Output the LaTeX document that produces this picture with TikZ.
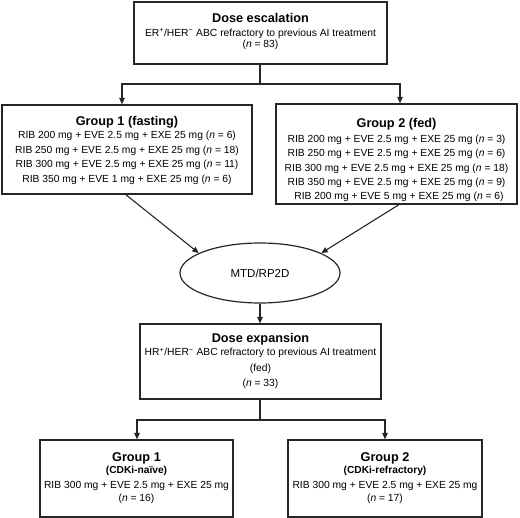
\documentclass[tikz,border=0pt]{standalone}
\usepackage{fontspec}
\setmainfont{Liberation Sans}
\usetikzlibrary{arrows.meta,shapes.geometric}
\begin{document}
\begin{tikzpicture}[x=1pt,y=-1pt,
  box/.style={draw=black!85, line width=1.2pt, inner sep=0pt, rectangle},
  ttl/.style={font=\fontsize{12.7}{14}\selectfont\bfseries, anchor=base, inner sep=0pt},
  sub/.style={font=\fontsize{10.2}{12}\selectfont\bfseries, anchor=base, inner sep=0pt},
  txt/.style={font=\fontsize{10.3}{12}\selectfont, anchor=base, inner sep=0pt},
  conn/.style={draw=black!85, line width=1.1pt},
  arr/.style={conn, -{Triangle[length=6.5pt,width=5.5pt]}}
]
\useasboundingbox (0,0) rectangle (520,518);

% boxes
\node[box, minimum width=253, minimum height=62] (top) at (260.5,33) {};
\node[box, minimum width=250, minimum height=89] (g1) at (127,149.5) {};
\node[box, minimum width=241, minimum height=100] (g2) at (396.5,154) {};
\node[draw=black!85, line width=1.2pt, ellipse, minimum width=160, minimum height=60, inner sep=0pt] (mtd) at (260,273) {};
\node[box, minimum width=241, minimum height=75] (exp) at (260.5,361.5) {};
\node[box, minimum width=193, minimum height=77] (b1) at (136.5,478.5) {};
\node[box, minimum width=194, minimum height=77] (b2) at (385,478.5) {};

% top box text
\node[ttl] (t1) at (260.5,22.6) {Dose escalation};
\node[txt] (t2) at (260.5,36.2) {ER\textsuperscript{+}/HER\textsuperscript{−} ABC refractory to previous AI treatment};
\node[txt] (t3) at (260.5,47.5) {(\textit{n} = 83)};

% group 1 text
\node[ttl] (g1t) at (127,125.6) {Group 1 (fasting)};
\node[txt] (g1a) at (127,138.7) {RIB 200 mg + EVE 2.5 mg + EXE 25 mg (\textit{n} = 6)};
\node[txt] (g1b) at (127,153.3) {RIB 250 mg + EVE 2.5 mg + EXE 25 mg (\textit{n} = 18)};
\node[txt] (g1c) at (127,167.9) {RIB 300 mg + EVE 2.5 mg + EXE 25 mg (\textit{n} = 11)};
\node[txt] (g1d) at (127,182.5) {RIB 350 mg + EVE 1 mg + EXE 25 mg (\textit{n} = 6)};

% group 2 text
\node[ttl] (g2t) at (396.5,127.8) {Group 2 (fed)};
\node[txt] (g2a) at (396.5,142.7) {RIB 200 mg + EVE 2.5 mg + EXE 25 mg (\textit{n} = 3)};
\node[txt] (g2b) at (396.5,157.0) {RIB 250 mg + EVE 2.5 mg + EXE 25 mg (\textit{n} = 6)};
\node[txt] (g2c) at (396.5,171.3) {RIB 300 mg + EVE 2.5 mg + EXE 25 mg (\textit{n} = 18)};
\node[txt] (g2d) at (396.5,185.6) {RIB 350 mg + EVE 2.5 mg + EXE 25 mg (\textit{n} = 9)};
\node[txt] (g2e) at (399,199.9) {RIB 200 mg + EVE 5 mg + EXE 25 mg (\textit{n} = 6)};

% ellipse text
\node[font=\fontsize{11.5}{13}\selectfont, inner sep=0pt, anchor=base] (mtdt) at (260,277.2) {MTD/RP2D};

% dose expansion text
\node[ttl] (e1) at (260.5,342.8) {Dose expansion};
\node[txt] (e2) at (260.5,356.0) {HR\textsuperscript{+}/HER\textsuperscript{−} ABC refractory to previous AI treatment};
\node[txt] (e3) at (260.5,372.0) {(fed)};
\node[txt] (e4) at (260.5,386.4) {(\textit{n} = 33)};

% bottom boxes text
\node[ttl] (b1t) at (136.5,461.6) {Group 1};
\node[sub] (b1s) at (136.5,473.7) {(CDKi-naïve)};
\node[txt] (b1a) at (136.5,488.7) {RIB 300 mg + EVE 2.5 mg + EXE 25 mg};
\node[txt] (b1n) at (136.5,501.7) {(\textit{n} = 16)};

\node[ttl] (b2t) at (385,461.6) {Group 2};
\node[sub] (b2s) at (385,473.7) {(CDKi-refractory)};
\node[txt] (b2a) at (385,488.7) {RIB 300 mg + EVE 2.5 mg + EXE 25 mg};
\node[txt] (b2n) at (385,501.7) {(\textit{n} = 17)};

% connectors
\coordinate (f1) at (260,84);
\coordinate (f1l) at (122,84);
\coordinate (f1r) at (400,84);
\draw[conn] (top.south -| f1) -- (f1);
\draw[arr] (f1) -- (f1l) -- (f1l |- g1.north);
\draw[arr] (f1) -- (f1r) -- (f1r |- g2.north);

\coordinate (g1o) at (125,194);
\coordinate (g2o) at (400,204);
\draw[arr] (g1o) -- (mtd.162);
\draw[arr] (g2o) -- (mtd.18);

\draw[arr] (mtd.south) -- (exp.north -| mtd.south);

\coordinate (f2) at (260,420);
\coordinate (f2l) at (137,420);
\coordinate (f2r) at (385,420);
\draw[conn] (exp.south -| f2) -- (f2);
\draw[arr] (f2) -- (f2l) -- (f2l |- b1.north);
\draw[arr] (f2) -- (f2r) -- (f2r |- b2.north);
\end{tikzpicture}
\end{document}
